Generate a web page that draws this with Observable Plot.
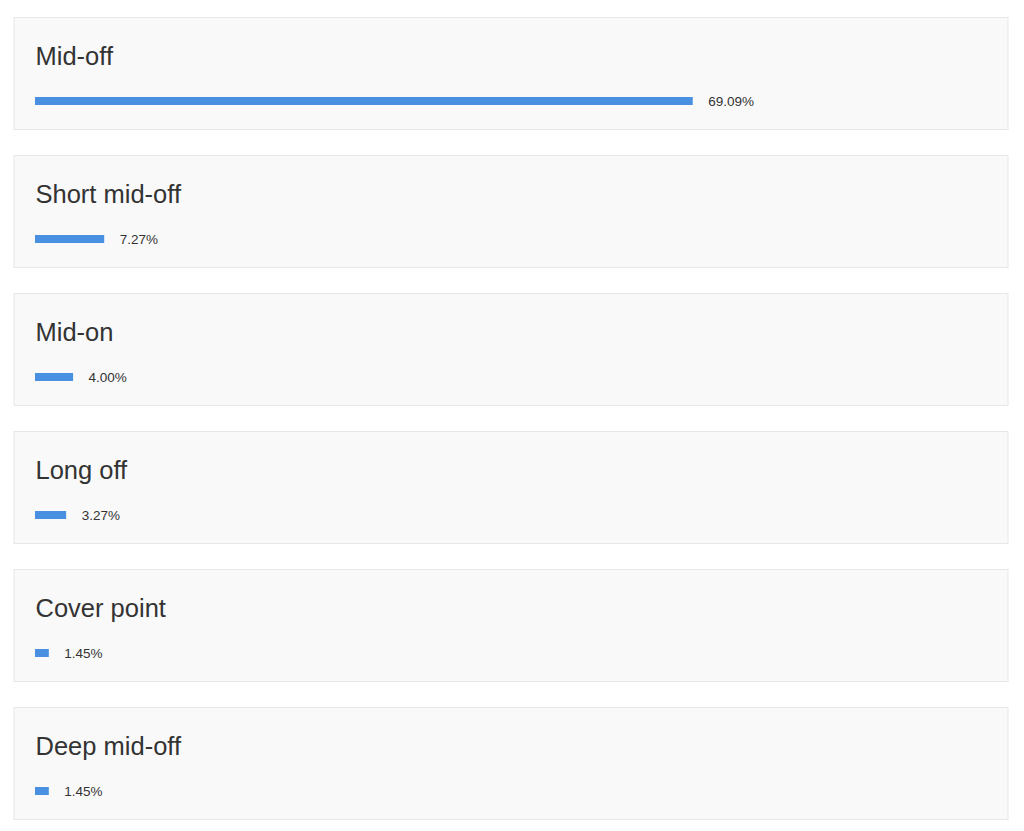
<!DOCTYPE html>
<html>
<head>
<meta charset="utf-8">
<script src="https://cdn.jsdelivr.net/npm/d3@7"></script>
<script src="https://cdn.jsdelivr.net/npm/@observablehq/plot@0.6"></script>
<style>
  html, body { margin: 0; padding: 0; background: #ffffff; }
  #chart svg { display: block; }
</style>
</head>
<body>
<div id="chart"></div>
<script>
const categories = ["Mid-off", "Short mid-off", "Mid-on", "Long off", "Cover point", "Deep mid-off"];
const values = [69.09, 7.27, 4.00, 3.27, 1.45, 1.45];
const xDomain = [0, 100];

const data = categories.map((c, i) => ({category: c, value: values[i]}));
const fmt = d => d3.format(".2f")(d) + "%";
const font = "'Liberation Sans', Arial, Helvetica, sans-serif";

const chart = Plot.plot({
  width: 1024,
  height: 831,
  margin: 0,
  style: {background: "transparent", fontFamily: font, overflow: "visible"},
  x: {domain: xDomain, range: [35, 987], axis: null},
  y: {domain: categories, range: [17, 845], padding: 0, axis: null},
  marks: [
    Plot.barX(data, {
      y: "category", x1: () => xDomain[0], x2: () => xDomain[1],
      insetLeft: -21, insetRight: -21, insetTop: 0.5, insetBottom: 25.5,
      fill: "#f9f9f9", stroke: "#e7e7e7", strokeWidth: 1
    }),
    Plot.text(data, {
      y: "category", x: () => xDomain[0], text: "category",
      textAnchor: "start", fontSize: 25.5, fill: "#333333", dy: -30
    }),
    Plot.barX(data, {
      y: "category", x1: () => xDomain[0], x2: "value",
      insetTop: 80, insetBottom: 50, fill: "#4a90e2"
    }),
    Plot.text(data, {
      y: "category", x: "value", text: d => fmt(d.value),
      textAnchor: "start", dx: 15, fontSize: 13.5, fill: "#333333", dy: 15.5
    })
  ]
});
document.getElementById("chart").append(chart);
</script>
</body>
</html>
